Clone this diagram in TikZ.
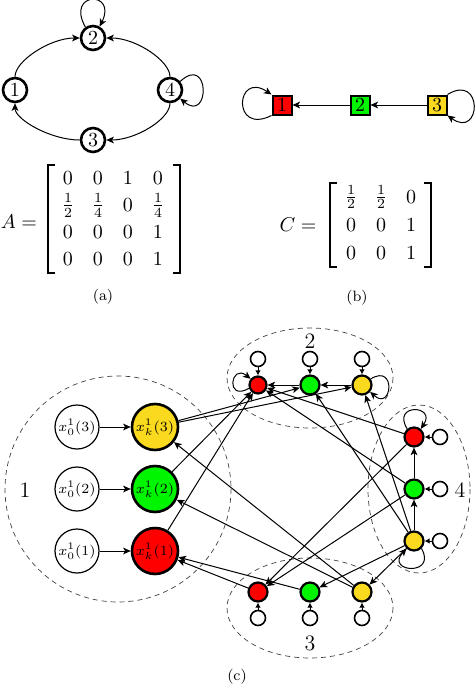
\documentclass[tikz,border=0pt]{standalone}
\usetikzlibrary{arrows.meta,matrix}
\definecolor{cred}{RGB}{255,0,0}
\definecolor{cgreen}{RGB}{0,245,0}
\definecolor{cgold}{RGB}{250,218,30}
\begin{document}
\begin{tikzpicture}[x=0.5pt,y=-0.5pt,
  conn/.style={line width=0.5pt,-{Stealth[length=3.8pt,width=3.4pt,inset=1pt]}},
  inp/.style={line width=0.5pt,-{Latex[length=2.5pt,width=2.8pt]}},
  anode/.style={circle,draw,line width=1.3pt,minimum size=12pt,inner sep=0pt,font=\fontsize{10}{12}\selectfont},
  bsq/.style={rectangle,draw,line width=1pt,minimum size=9.5pt,inner sep=0pt,font=\fontsize{10}{12}\selectfont},
  wbig/.style={circle,draw,line width=0.6pt,minimum size=22pt,inner sep=0pt,font=\fontsize{7.4}{8}\selectfont},
  cbig/.style={circle,draw,line width=1.3pt,minimum size=23pt,inner sep=0pt,font=\fontsize{7.4}{8}\selectfont},
  csm/.style={circle,draw,line width=1.1pt,minimum size=9.5pt,inner sep=0pt},
  wsm/.style={circle,draw,line width=0.8pt,minimum size=7.5pt,inner sep=0pt},
  grp/.style={draw=black!75,dash pattern=on 2.5pt off 2pt,line width=0.35pt},
  lbl/.style={font=\fontsize{11}{13}\selectfont},
  subcap/.style={font=\fontsize{7.5}{9}\selectfont},
  mcell/.style={minimum width=15pt,inner sep=0pt,anchor=center,font=\fontsize{10}{12}\selectfont},
  brk/.style={line width=0.6pt}
]
\useasboundingbox (0,0) rectangle (475,685);

% ---------- (a) ----------
\node[anode] (n1) at (15,90) {1};
\node[anode] (n2) at (93,38) {2};
\node[anode] (n3) at (93,140) {3};
\node[anode] (n4) at (170,90) {4};
\draw[conn] (n1) .. controls (15,61) and (50,38) .. (n2);
\draw[conn] (n4) .. controls (170,61) and (136,38) .. (n2);
\draw[conn] (n4) .. controls (170,119) and (136,140) .. (n3);
\draw[conn] (n3) .. controls (50,140) and (15,119) .. (n1);
\draw[conn] (n2.125) .. controls +(-20,-36) and +(18,-36) .. (n2.60);
\draw[conn] (n4.40) .. controls +(30,-28) and +(30,25) .. (n4.-40);

\node[font=\fontsize{10}{12}\selectfont] (Aeq) at (19,222) {$A=$};
\matrix (MA) at (113,219) [matrix of math nodes, row sep=0pt, column sep=0pt,
  nodes={mcell,minimum height=13.5pt}] {
0 & 0 & 1 & 0\\
\frac12 & \frac14 & 0 & \frac14\\
0 & 0 & 0 & 1\\
0 & 0 & 0 & 1\\
};
\draw[brk] (55,165) -- (48,165) -- (48,273) -- (55,273);
\draw[brk] (173,165) -- (180,165) -- (180,273) -- (173,273);
\node[subcap] (capa) at (103,297) {(a)};

% ---------- (b) ----------
\node[bsq,fill=cred] (s1) at (282,105) {1};
\node[bsq,fill=cgreen] (s2) at (360,105) {2};
\node[bsq,fill=cgold] (s3) at (437,105) {3};
\draw[conn] (s3) -- (s2);
\draw[conn] (s2) -- (s1);
\draw[conn] (s1.south west) .. controls +(-40,20) and +(-36,-24) .. (s1.north west);
\draw[conn] (s3.north east) .. controls +(36,-22) and +(34,24) .. (s3.south east);

\node[font=\fontsize{10}{12}\selectfont] (Ceq) at (298,225) {$C=$};
\matrix (MC) at (381,225) [matrix of math nodes, row sep=0pt, column sep=0pt,
  nodes={mcell,minimum height=14pt}] {
\frac12 & \frac12 & 0\\
0 & 0 & 1\\
0 & 0 & 1\\
};
\draw[brk] (337,183) -- (330,183) -- (330,267) -- (337,267);
\draw[brk] (424,183) -- (431,183) -- (431,267) -- (424,267);
\node[subcap] (capb) at (357,298) {(b)};

% ---------- (c) ----------
\draw[grp] (118,489) circle[radius=113];
\draw[grp] (310,378) ellipse[x radius=83,y radius=50];
\draw[grp] (310,608) ellipse[x radius=83,y radius=50];
\draw[grp] (419,489) ellipse[x radius=51,y radius=84];

\node[lbl] (L1) at (25,490) {1};
\node[lbl] (L2) at (310,341) {2};
\node[lbl] (L3) at (310,643) {3};
\node[lbl] (L4) at (460,490) {4};

% cluster 1
\node[wbig] (w13) at (77,427) {$x_0^1(3)$};
\node[wbig] (w12) at (77,489) {$x_0^1(2)$};
\node[wbig] (w11) at (77,551) {$x_0^1(1)$};
\node[cbig,fill=cgold]  (k3) at (155,427) {$x_k^1(3)$};
\node[cbig,fill=cgreen] (k2) at (155,489) {$x_k^1(2)$};
\node[cbig,fill=cred]   (k1) at (155,551) {$x_k^1(1)$};
\draw[conn] (w13) -- (k3);
\draw[conn] (w12) -- (k2);
\draw[conn] (w11) -- (k1);

% cluster 2
\node[csm,fill=cred,minimum size=8.5pt] (r2) at (258,385) {};
\node[csm,fill=cgreen] (g2) at (310,385) {};
\node[csm,fill=cgold] (y2) at (362,385) {};
\node[wsm] (wr2) at (258,359) {};
\node[wsm] (wg2) at (310,359) {};
\node[wsm] (wy2) at (362,359) {};
\draw[inp] (wr2) -- (r2);
\draw[inp] (wg2) -- (g2);
\draw[inp] (wy2) -- (y2);

% cluster 3
\node[csm,fill=cred] (r3) at (258,592) {};
\node[csm,fill=cgreen] (g3) at (310,592) {};
\node[csm,fill=cgold] (y3) at (362,592) {};
\node[wsm] (wr3) at (258,618) {};
\node[wsm] (wg3) at (310,618) {};
\node[wsm] (wy3) at (362,618) {};
\draw[inp] (wr3) -- (r3);
\draw[inp] (wg3) -- (g3);
\draw[inp] (wy3) -- (y3);

% cluster 4
\node[csm,fill=cred] (r4) at (414,437) {};
\node[csm,fill=cgreen] (g4) at (414,489) {};
\node[csm,fill=cgold] (y4) at (414,541) {};
\node[wsm] (wr4) at (440,437) {};
\node[wsm] (wg4) at (440,489) {};
\node[wsm] (wy4) at (440,541) {};
\draw[inp] (wr4) -- (r4);
\draw[inp] (wg4) -- (g4);
\draw[inp] (wy4) -- (y4);

% within-cluster edges
\draw[conn] (g2) -- (r2);
\draw[conn] (y2) -- (g2);
\draw[conn] (g4) -- (r4);
\draw[conn] (y4) -- (g4);
\draw[conn] (r2.200) .. controls +(-24,14) and +(-20,-16) .. (r2.140);
\draw[conn] (y2.35) .. controls +(26,-16) and +(22,20) .. (y2.-40);
\draw[conn] (r4.130) .. controls +(-16,-26) and +(16,-24) .. (r4.50);
\draw[conn] (y4.-45) .. controls +(16,28) and +(-22,24) .. (y4.-135);

% between-cluster edges
\draw[conn] (k3) -- (g2);
\draw[conn] (k3) -- (y2);
\draw[conn] (k2) -- (r2);
\draw[conn] (k1) -- (r2);
\draw[conn] (r4) -- (r2);
\draw[conn] (g4) -- (r2);
\draw[conn] (y4) -- (g2);
\draw[conn] (y4) -- (y2);
\draw[conn] (y3) -- (k2);
\draw[conn] (y3) -- (k3);
\draw[conn] (r3) -- (k1);
\draw[conn] (g3) -- (k1);
\draw[conn] (r4) -- (r3);
\draw[conn] (g4) -- (r3);
\draw[conn] (y4) -- (g3);
\draw[conn] (y4) -- (y3);

\node[subcap] (capc) at (237,677) {(c)};
\end{tikzpicture}
\end{document}
